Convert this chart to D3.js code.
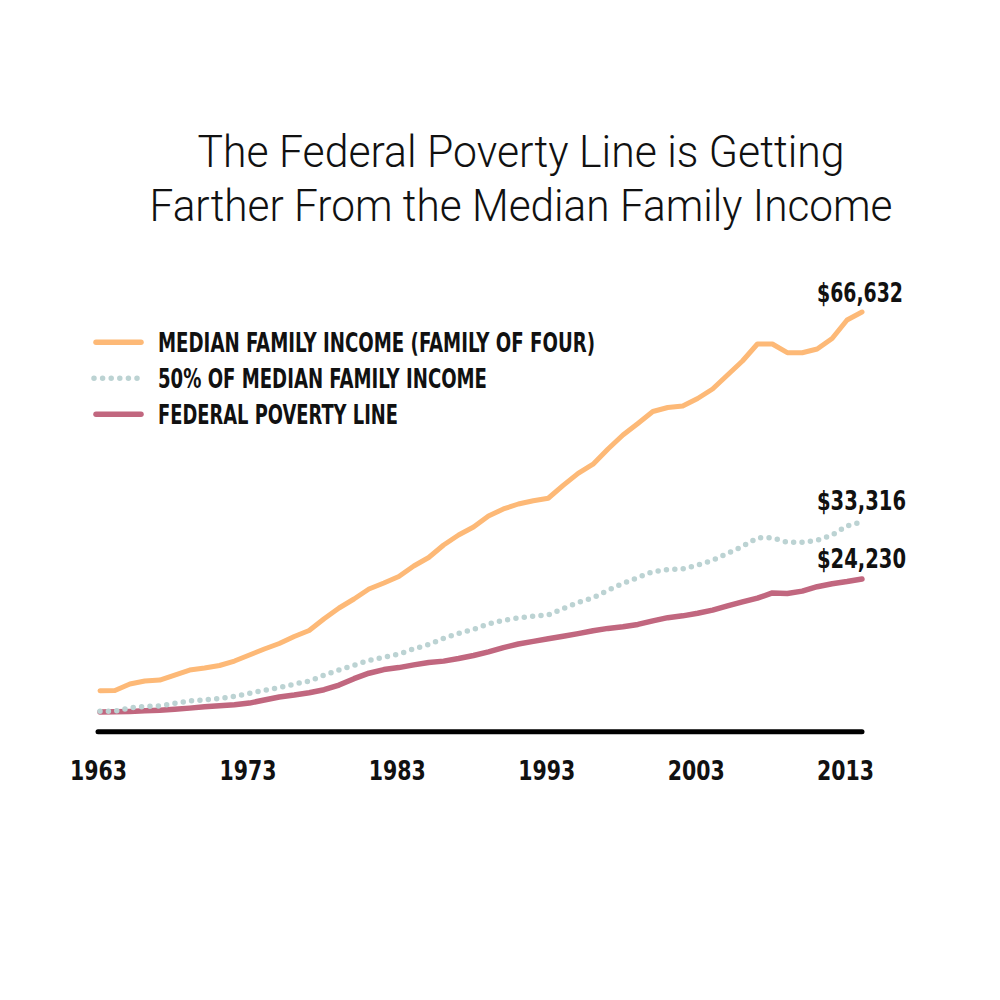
<!DOCTYPE html>
<html>
<head>
<meta charset="utf-8">
<script src="https://cdn.jsdelivr.net/npm/d3@7"></script>
<style>
  html, body { margin: 0; padding: 0; background: #ffffff; }
  svg { display: block; }
  .cond { font-family: "DejaVu Sans", sans-serif; font-stretch: condensed; font-weight: 700; fill: #111; }
</style>
</head>
<body>
<script>
// ---- data ----
const years = d3.range(1963, 2015);
const tickYears = [1963, 1973, 1983, 1993, 2003, 2013];

const medianIncome = [
  6500, 6550, 7570, 8050, 8200, 9000, 9790, 10110, 10510, 11220,
  12180, 13130, 14000, 15110, 16070, 17940, 19640, 21070, 22650, 23610,
  24640, 26310, 27660, 29640, 31230, 32500, 34250, 35360, 36150, 36670,
  37060, 39100, 41020, 42470, 44880, 47100, 48930, 50840, 51470, 51710,
  52900, 54410, 56630, 58850, 61550, 61550, 60170, 60170, 60760, 62430,
  65360, 66632
];
const halfMedian = [
  3250, 3275, 3785, 4025, 4100, 4500, 4895, 5055, 5255, 5610,
  6090, 6565, 7000, 7555, 8035, 8970, 9820, 10535, 11325, 11805,
  12320, 13155, 13830, 14820, 15615, 16250, 17125, 17680, 18075, 18335,
  18530, 19550, 20510, 21235, 22440, 23550, 24465, 25420, 25735, 25855,
  26450, 27205, 28315, 29425, 30775, 30775, 30085, 30085, 30380, 31215,
  32680, 33316
];
const povertyLine = [
  3128, 3169, 3223, 3317, 3410, 3553, 3743, 3968, 4137, 4275,
  4540, 5038, 5500, 5815, 6191, 6662, 7412, 8414, 9287, 9862,
  10178, 10609, 10989, 11203, 11611, 12092, 12674, 13359, 13924, 14335,
  14763, 15141, 15569, 16036, 16400, 16660, 17029, 17603, 18104, 18392,
  18810, 19307, 19971, 20614, 21203, 22025, 21954, 22314, 23021, 23492,
  23834, 24230
];
const seriesNames = [
  "MEDIAN FAMILY INCOME (FAMILY OF FOUR)",
  "50% OF MEDIAN FAMILY INCOME",
  "FEDERAL POVERTY LINE"
];
const endLabels = ["$66,632", "$33,316", "$24,230"];
const titleLines = [
  "The Federal Poverty Line is Getting",
  "Farther From the Median Family Income"
];

// ---- chart ----
const W = 1000, H = 1000;
const svg = d3.select("body").append("svg").attr("width", W).attr("height", H);

const x = d3.scaleLinear().domain([1963, 2014]).range([100, 862]);
const y = d3.scaleLinear().domain([0, 66632]).range([731.7, 312]);

const colors = ["#FDB977", "#BCD3D3", "#C1677F"];

// title
const titleW = [647, 743];
svg.append("g").selectAll("text").data(titleLines).join("text")
  .attr("x", 521)
  .attr("y", (d, i) => 166.5 + i * 54)
  .attr("text-anchor", "middle")
  .attr("textLength", (d, i) => titleW[i])
  .attr("lengthAdjust", "spacingAndGlyphs")
  .style("font-family", "Roboto, 'Open Sans', sans-serif")
  .style("font-weight", 300)
  .style("font-size", "45px")
  .style("fill", "#111")
  .text(d => d);

// axis baseline
svg.append("line")
  .attr("x1", x(1963) - 2).attr("x2", x(2014))
  .attr("y1", y(0)).attr("y2", y(0))
  .attr("stroke", "#000").attr("stroke-width", 5).attr("stroke-linecap", "round");

// x axis labels
const xAxis = d3.axisBottom(x).tickValues(tickYears).tickFormat(d3.format("d")).tickSize(0);
const ax = svg.append("g").attr("transform", `translate(0,${y(0)})`).call(xAxis);
ax.select(".domain").remove();
ax.selectAll("text")
  .attr("class", "cond")
  .attr("y", 48).attr("dy", 0)
  .attr("dx", -2)
  .attr("textLength", 57)
  .attr("lengthAdjust", "spacingAndGlyphs")
  .style("font-size", "27px")
  .style("fill", "#111");

// lines
const line = d3.line().x((d, i) => x(years[i])).y(d => y(d));

svg.append("path").datum(povertyLine)
  .attr("d", line).attr("fill", "none")
  .attr("stroke", colors[2]).attr("stroke-width", 5.5)
  .attr("stroke-linejoin", "round").attr("stroke-linecap", "round");

svg.append("path").datum(halfMedian)
  .attr("d", line).attr("fill", "none")
  .attr("stroke", colors[1]).attr("stroke-width", 5.5)
  .attr("stroke-dasharray", "0 8.4")
  .attr("stroke-linecap", "round");

svg.append("path").datum(medianIncome)
  .attr("d", line).attr("fill", "none")
  .attr("stroke", colors[0]).attr("stroke-width", 5)
  .attr("stroke-linejoin", "round").attr("stroke-linecap", "round");

// end labels
const endY = [302, 510, 568];
const endW = [86, 89, 89];
svg.append("g").selectAll("text").data(endLabels).join("text")
  .attr("class", "cond")
  .attr("x", 817)
  .attr("y", (d, i) => endY[i])
  .attr("textLength", (d, i) => endW[i])
  .attr("lengthAdjust", "spacingAndGlyphs")
  .style("font-size", "26px")
  .text(d => d);

// legend
const legY = [342.3, 378.3, 414.3];
const legW = [437, 329, 240];
const leg = svg.append("g");
seriesNames.forEach((name, i) => {
  const l = leg.append("line")
    .attr("x1", 96).attr("x2", 141)
    .attr("y1", legY[i]).attr("y2", legY[i])
    .attr("stroke", colors[i]).attr("stroke-width", 5.5)
    .attr("stroke-linecap", "round");
  if (i === 1) l.attr("stroke-dasharray", "0 8.6").attr("x1", 94).attr("x2", 144);
  leg.append("text")
    .attr("class", "cond")
    .attr("x", 158)
    .attr("y", legY[i] + 9.4)
    .attr("textLength", legW[i])
    .attr("lengthAdjust", "spacingAndGlyphs")
    .style("font-size", "26px")
    .text(name);
});
</script>
</body>
</html>
